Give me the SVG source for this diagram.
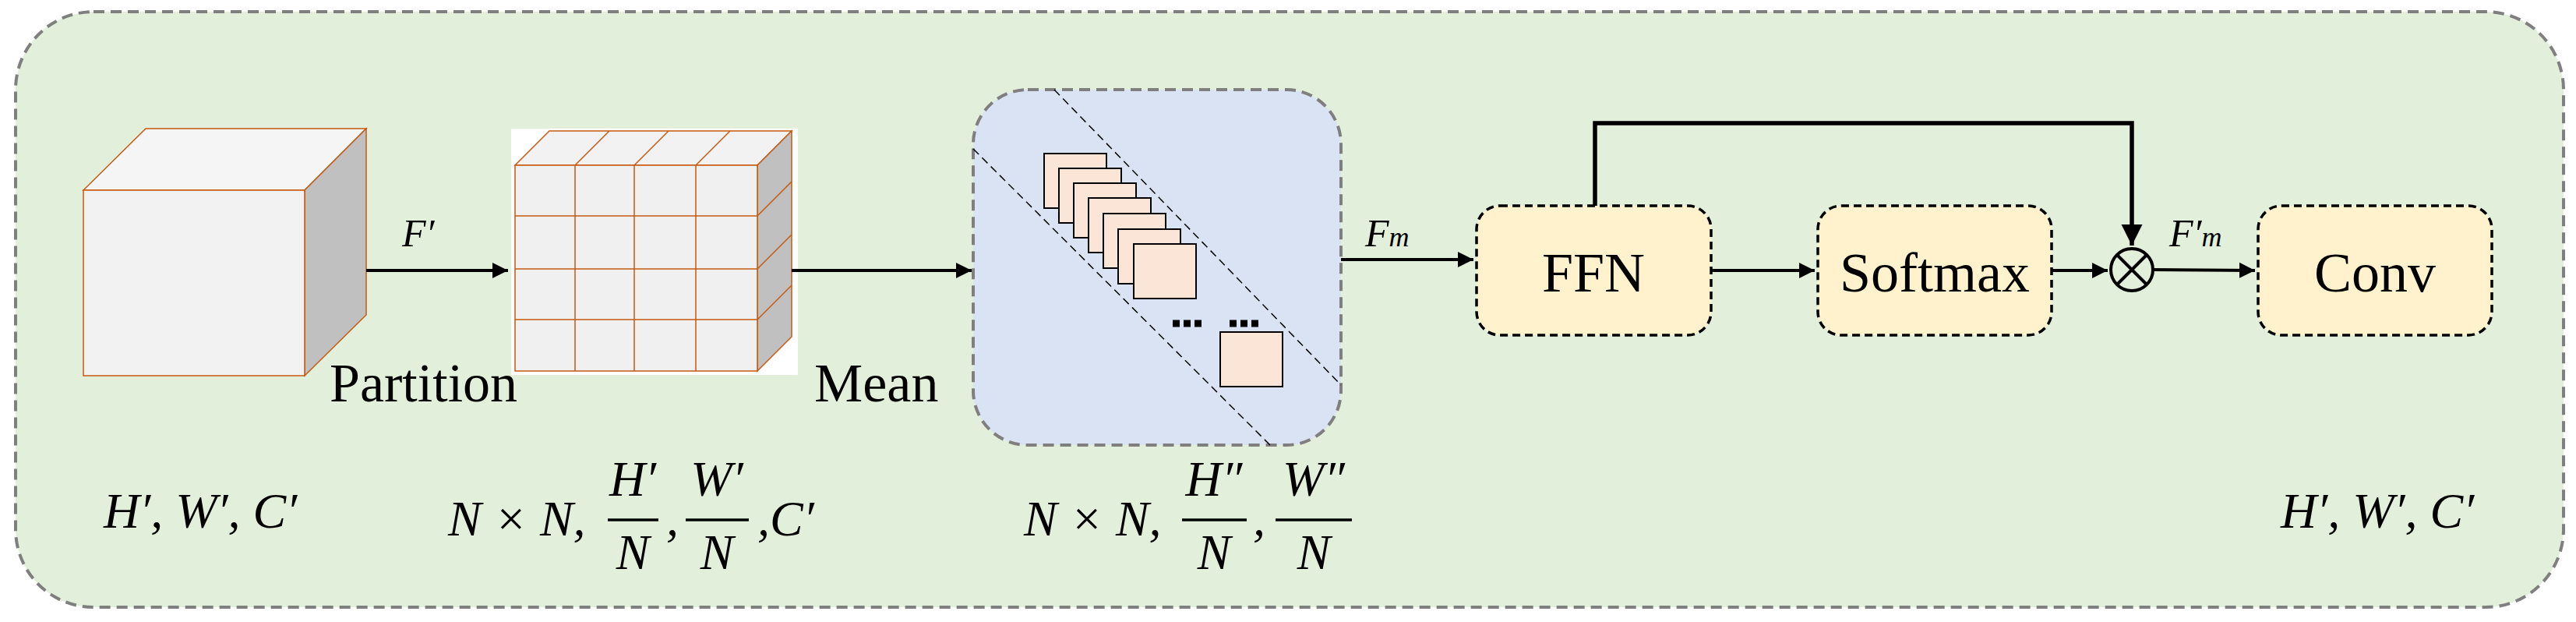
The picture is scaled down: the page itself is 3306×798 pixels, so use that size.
<svg xmlns="http://www.w3.org/2000/svg" width="3306" height="798" viewBox="0 0 3306 798">
<style>
.t{font-family:"Liberation Serif",serif;fill:#000}
.m{font-family:"Liberation Serif",serif;font-style:italic;fill:#000;font-size:64px}
.box{fill:#fff2cc;stroke:#000;stroke-width:3.5;stroke-dasharray:10 6}
.ln{stroke:#000;stroke-width:4;fill:none}
.sq{fill:#fbe5d6;stroke:#000;stroke-width:2}
.or{stroke:#c55a11;stroke-width:1.5}
.bar{stroke:#000;stroke-width:3.5}
</style>
<defs>
<marker id="ah" markerWidth="6" markerHeight="6" refX="5" refY="3" orient="auto" markerUnits="strokeWidth">
<path d="M0,0.5 L5,3 L0,5.5 Z" fill="#000"/>
</marker>
</defs>
<rect x="20" y="15" width="3270" height="764" rx="100" fill="#e2efda" stroke="#7f7f7f" stroke-width="4" stroke-dasharray="14 8"/>

<g id="cube1">
<polygon points="107,244 187,165 470,165 391,244" fill="#f5f5f5" class="or"/>
<polygon points="391,244 470,165 470,404 391,482" fill="#c0c0c0" class="or"/>
<rect x="107" y="244" width="284" height="238" fill="#f2f2f2" class="or"/>
</g>

<g id="cube2">
<rect x="656" y="165" width="368" height="316" fill="#fff"/>
<polygon points="661,212 705,168 1016,168 972,212" fill="#f2f2f2" class="or"/>
<polygon points="972,212 1016,168 1016,432 972,476" fill="#c0c0c0" class="or"/>
<rect x="661" y="212" width="311" height="264" fill="#f0f0f0" class="or"/>
<path class="or" fill="none" d="M738,212V476M814,212V476M893,212V476M661,277H972M661,345H972M661,410H972M738,212L782,168M814,212L858,168M893,212L937,168M972,277L1016,233M972,345L1016,301M972,410L1016,366"/>
</g>

<g id="mean">
<rect x="1249" y="115" width="472" height="456" rx="70" fill="#dae3f3" stroke="#7f7f7f" stroke-width="4" stroke-dasharray="14 8"/>
<path d="M1353,115L1721,494M1249,191L1630,571" stroke="#000" stroke-width="1.5" stroke-dasharray="10 6" fill="none"/>
<rect class="sq" x="1340" y="197" width="80" height="70"/>
<rect class="sq" x="1359" y="216" width="80" height="70"/>
<rect class="sq" x="1378" y="235" width="80" height="70"/>
<rect class="sq" x="1397" y="254" width="80" height="70"/>
<rect class="sq" x="1416" y="274" width="80" height="70"/>
<rect class="sq" x="1435" y="294" width="80" height="70"/>
<rect class="sq" x="1455" y="313" width="80" height="70"/>
<rect class="sq" x="1566" y="426" width="80" height="70"/>
<path d="M1505,415h9M1519,415h9M1533,415h9M1578,415h9M1592,415h9M1606,415h9" stroke="#000" stroke-width="9"/>
</g>

<g id="ffn"><rect class="box" x="1895" y="264" width="301" height="166" rx="30"/><text class="t" x="2045" y="374" font-size="72" text-anchor="middle">FFN</text></g>
<g id="softmax"><rect class="box" x="2333" y="264" width="300" height="166" rx="30"/><text class="t" x="2483" y="374" font-size="72" text-anchor="middle">Softmax</text></g>
<g id="conv"><rect class="box" x="2898" y="264" width="300" height="166" rx="30"/><text class="t" x="3048" y="374" font-size="72" text-anchor="middle">Conv</text></g>
<g id="mult">
<circle cx="2736" cy="346" r="27" fill="none" stroke="#000" stroke-width="4"/>
<path d="M2717,327L2755,365M2755,327L2717,365" stroke="#000" stroke-width="4"/>
</g>

<g id="connectors">
<line class="ln" x1="470" y1="347" x2="652" y2="347" marker-end="url(#ah)"/>
<line class="ln" x1="1016" y1="347" x2="1247" y2="347" marker-end="url(#ah)"/>
<line class="ln" x1="1721" y1="333" x2="1891" y2="333" marker-end="url(#ah)"/>
<line class="ln" x1="2196" y1="347" x2="2329" y2="347" marker-end="url(#ah)"/>
<line class="ln" x1="2633" y1="347" x2="2705" y2="347" marker-end="url(#ah)"/>
<line class="ln" x1="2763" y1="346" x2="2894" y2="347" marker-end="url(#ah)"/>
<polyline class="ln" style="stroke-width:5.5" points="2047,264 2047,158 2736,158 2736,315" marker-end="url(#ah)"/>
</g>

<text class="t" x="516" y="316" font-size="50" font-style="italic" fill="#333">F′</text>
<text class="t" x="1752" y="316" font-size="50" font-style="italic">F<tspan font-size="36">m</tspan></text>
<text class="t" x="2784" y="316" font-size="50" font-style="italic">F′<tspan font-size="36">m</tspan></text>
<text class="t" x="423" y="515" font-size="70">Partition</text>
<text class="t" x="1045" y="515" font-size="70">Mean</text>

<text class="m" x="133" y="677">H′, W′, C′</text>
<text class="m" x="2927" y="677">H′, W′, C′</text>

<text class="m" x="575" y="687">N × N,</text>
<text class="m" x="812" y="636" text-anchor="middle">H′</text>
<line class="bar" x1="780" y1="667" x2="845" y2="667"/>
<text class="m" x="812" y="730" text-anchor="middle">N</text>
<text class="m" x="855" y="687">,</text>
<text class="m" x="920" y="636" text-anchor="middle">W′</text>
<line class="bar" x1="880" y1="667" x2="961" y2="667"/>
<text class="m" x="920" y="730" text-anchor="middle">N</text>
<text class="m" x="972" y="687">,C′</text>

<text class="m" x="1314" y="687">N × N,</text>
<text class="m" x="1558" y="636" text-anchor="middle">H″</text>
<line class="bar" x1="1517" y1="667" x2="1600" y2="667"/>
<text class="m" x="1558" y="730" text-anchor="middle">N</text>
<text class="m" x="1608" y="687">,</text>
<text class="m" x="1686" y="636" text-anchor="middle">W″</text>
<line class="bar" x1="1637" y1="667" x2="1735" y2="667"/>
<text class="m" x="1686" y="730" text-anchor="middle">N</text>
</svg>
